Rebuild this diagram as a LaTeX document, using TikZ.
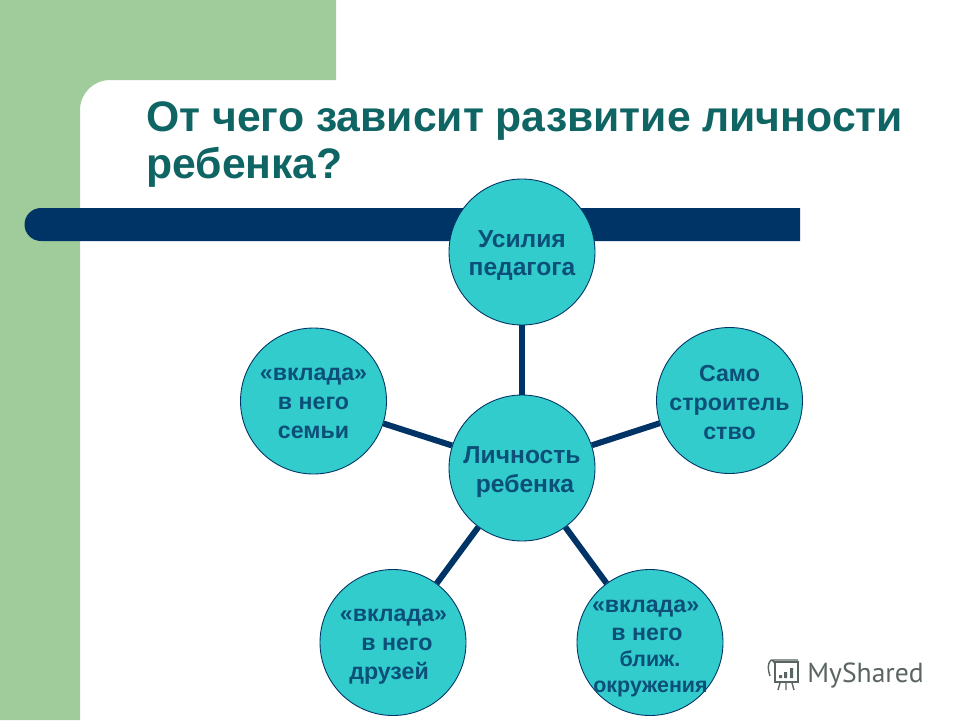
\documentclass[tikz,border=0pt]{standalone}
\usepackage{fontspec}
\setmainfont{Liberation Sans}
\newfontfamily\logofont{PT Sans}
\usetikzlibrary{positioning}
\definecolor{slidegreen}{HTML}{A0CC9C}
\definecolor{barblue}{HTML}{003366}
\definecolor{titleteal}{HTML}{0F6464}
\definecolor{bubblefill}{HTML}{33CCCC}
\definecolor{bubbletext}{HTML}{0C4F78}
\definecolor{logogray}{HTML}{5A6462}
\newcommand{\smalltext}{\fontsize{12.2}{16.4}\selectfont}
\newcommand{\largetext}{\fontsize{14}{17}\selectfont}
\tikzset{
	bubble/.style={circle, draw=barblue, line width=0.5pt, fill=bubblefill, minimum size=146*0.02cm, inner sep=-12pt, align=center, text=bubbletext, font=\fontsize{13.2}{16.4}\selectfont\bfseries},
	nudge/.style={execute at begin node={\rule{0pt}{#1}}},
	spoke/.style={draw=barblue, line width=3.4pt},
	slidetitle/.style={anchor=north west, align=left, inner sep=0pt, text=titleteal, font=\fontsize{24.3}{26.8}\selectfont\bfseries},
	logoline/.style={draw=logogray, line width=0.8pt},
}
\begin{document}
\begin{tikzpicture}[x=0.02cm, y=-0.02cm]
	\useasboundingbox (0,0) rectangle (960,720);
	\fill[white] (0,0) rectangle (960,720);
	\fill[slidegreen] (0,0) -- (336,0) -- (336,80) -- (110,80) arc[start angle=270, end angle=180, radius=30] -- (80,720) -- (0,720) -- cycle;
	\fill[barblue] (800,208) -- (41,208) arc[start angle=270, end angle=90, radius=16.5] -- (800,241) -- cycle;
	\node[slidetitle] (heading) at (146,101) {От чего зависит развитие личности\\ребенка?};
	% the five around the middle one
	\node[bubble, nudge=30.3pt] (centre) at (522,468) {\largetext Личность\\\largetext\hspace*{3.4pt}ребенка};
	\node[bubble, nudge=30.1pt] (effort) at (522,252) {\largetext Усилия\\\largetext педагога};
	\node[bubble, nudge=44.6pt] (self) at (729.5,400.5) {Само\\строитель\\ство};
	\node[bubble, nudge=42.6pt] (family) at (313.5,401) {«вклада»\\в него\\семьи};
	\node[bubble, nudge=44.4pt] (friends) at (393,642.5) {\hspace*{0.6pt}«вклада»\\\hspace*{4.5pt}в него\\\hspace*{-4.5pt}друзей};
	\node[bubble, nudge=60pt] (close) at (650,642.5) {\hspace*{-5pt}«вклада»\\[-0.5pt]\hspace*{-3.4pt}в него\\[-1.5pt]{\smalltext ближ.}\\[-1.5pt]{\smalltext\hspace*{0.6pt}окружения}};
	\foreach \other in {effort, self, close, friends, family}
		\draw[spoke] (centre) -- (\other);
	% logo
	\node[anchor=west, inner sep=0pt, text=logogray, font=\fontsize{15.7}{18}\selectfont\logofont] (logo) at (807,675) {MyShared};
	\draw[logoline] (775,662) rectangle (798,682);
	\draw[logoline] (771,660) .. controls (767,664) and (768,670) .. (770,676);
	\draw[logoline] (771,660) -- (798,660) (771,660) .. controls (775,661) and (775,664) .. (775,668);
	\draw[logoline] (780,683) -- (778,690) (786,683) -- (786,690) (792,683) -- (794,690);
	\fill[logogray] (779,675) rectangle (782,678) (784,672) rectangle (787,678) (790,668) rectangle (793,678);
\end{tikzpicture}
\end{document}
